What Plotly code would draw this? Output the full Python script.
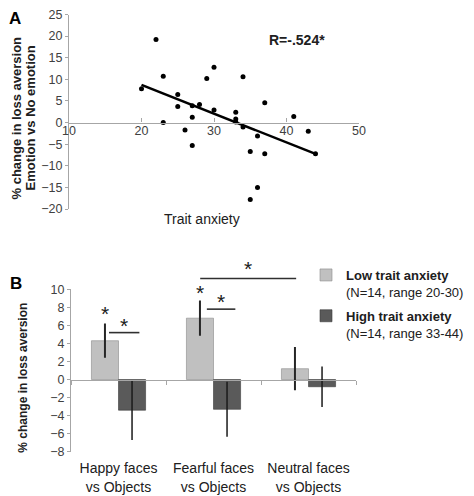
import numpy as np
import plotly.graph_objects as go

# panel A: trait anxiety vs % change in loss aversion (emotion vs no emotion)
anxiety = [20, 22, 23, 23, 25, 25, 26, 27, 27, 27, 28, 29, 30, 30,
           33, 33, 33, 34, 34, 35, 35, 36, 36, 37, 37, 41, 43, 44]
loss_change = [7.8, 19.2, 10.7, 0.0, 6.5, 3.7, -1.7, 3.9, 1.2, -5.3, 4.2, 10.2, 12.8, 2.9,
               2.4, 0.8, 0.1, 10.6, -1.0, -6.7, -17.8, -3.1, -15.0, 4.6, -7.2, 1.4, -2.0, -7.2]
r_text = "R=-.524*"

# panel B: group means + error
conditions = ["Happy faces<br>vs Objects", "Fearful faces<br>vs Objects", "Neutral faces<br>vs Objects"]
low_means = [4.3, 6.8, 1.2]
low_err = [1.9, 1.95, 2.4]
high_means = [-3.4, -3.3, -0.8]
high_err = [3.3, 3.05, 2.25]
low_name = "<b>Low trait anxiety</b><br>(N=14, range 20-30)"
high_name = "<b>High trait anxiety</b><br>(N=14, range 33-44)"

FONT = "Arial, Liberation Sans, sans-serif"
W, H = 474, 496
OFF = 8  # page body margin
AXCOL = "#a6a6a6"
TICKCOL = "#404040"


def px(x):
    return (x - OFF) / W


def py(y):
    return 1 - (y - OFF) / H


# domains (paper fractions) from target pixel positions
ax_dom = [px(69), px(359)]
ay_dom = [py(209), py(14.5)]
bx_dom = [px(71), px(356)]
by_dom = [py(451.7), py(289.3)]
a_yrange = [-20, 25]
b_yrange = [-8, 10]


def zero_pos(dom, rng):
    # paper position of value 0 on a y axis
    return dom[0] + (0 - rng[0]) / (rng[1] - rng[0]) * (dom[1] - dom[0])


def bfrac(v):
    # value on panel B y axis -> 'y2 domain' fraction (lets marks sit above the range)
    return (v - b_yrange[0]) / (b_yrange[1] - b_yrange[0])


slope, intercept = np.polyfit(anxiety, loss_change, 1)
fit_x = np.array([min(anxiety), max(anxiety)])
fit_y = slope * fit_x + intercept

fig = go.Figure()
fig.add_trace(go.Scatter(x=anxiety, y=loss_change, mode="markers",
                         marker=dict(color="black", size=5), showlegend=False,
                         xaxis="x", yaxis="y"))
fig.add_trace(go.Scatter(x=fit_x, y=fit_y, mode="lines",
                         line=dict(color="black", width=2.5), showlegend=False,
                         xaxis="x", yaxis="y"))

fig.add_trace(go.Bar(x=conditions, y=low_means, name=low_name, legendgroup="low",
                     marker=dict(color="#c0c0c0", line=dict(color="#8a8a8a", width=0.6)),
                     error_y=dict(type="data", array=low_err, color="#262626", thickness=2, width=0),
                     xaxis="x2", yaxis="y2"))
fig.add_trace(go.Bar(x=conditions, y=high_means, name=high_name, legendgroup="high",
                     marker=dict(color="#5a5a5a", line=dict(color="#3a3a3a", width=0.6)),
                     error_y=dict(type="data", array=high_err, color="#1a1a1a", thickness=1.5, width=0),
                     xaxis="x2", yaxis="y2"))

# significance brackets (offsets within a category, bar centres at +-0.1425)
brackets = [(-0.10, 0.22, 5.2), (0.93, 1.23, 7.8), (0.86, 1.87, 11.2)]
stars = [(-0.1425, 7.3), (0.06, 6.0), (0.8575, 9.6), (1.08, 8.6), (1.36, 12.3)]
shapes = []
for x0, x1, yv in brackets:
    shapes.append(dict(type="line", xref="x2", yref="y2 domain", x0=x0, x1=x1,
                       y0=bfrac(yv), y1=bfrac(yv), line=dict(color="#303030", width=1.6)))
ann = []
for xs, ys in stars:
    ann.append(dict(x=xs, y=bfrac(ys), xref="x2", yref="y2 domain", text="*", showarrow=False,
                    xanchor="center", yanchor="middle",
                    font=dict(family=FONT, size=21, color="#202020")))


def label(x, y, text, size, angle=0, color="#202020"):
    return dict(x=px(x), y=py(y), xref="paper", yref="paper", text=text, showarrow=False,
                xanchor="center", yanchor="middle", textangle=angle,
                font=dict(family=FONT, size=size, color=color))


ann += [
    label(15, 18.5, "<b>A</b>", 17, color="black"),
    label(16, 283, "<b>B</b>", 17, color="black"),
    label(297, 40, "<b>" + r_text + "</b>", 14),
    label(202, 219, "Trait anxiety", 14),
    label(15.5, 118, "<b>% change in loss aversion</b>", 13, -90),
    label(29.5, 118, "<b>Emotion vs No emotion</b>", 13, -90),
    label(22.7, 378, "<b>% change in loss aversion</b>", 12, -90),
]

tickfont = dict(family=FONT, size=12.5, color=TICKCOL)
fig.update_layout(
    width=W, height=H,
    margin=dict(l=0, r=0, t=0, b=0, autoexpand=False),
    paper_bgcolor="white", plot_bgcolor="white",
    font=dict(family=FONT, color="#202020"),
    barmode="group", bargap=0.43, bargroupgap=0,
    xaxis=dict(domain=ax_dom, range=[10, 50], dtick=10, anchor="free",
               position=zero_pos(ay_dom, a_yrange), showgrid=False, zeroline=False,
               showline=True, linecolor=AXCOL, linewidth=1.2, ticks="inside", ticklen=4,
               tickcolor=AXCOL, tickfont=tickfont, ticklabelstandoff=-4),
    yaxis=dict(domain=ay_dom, range=a_yrange, dtick=5, anchor="x", showgrid=False,
               zeroline=False, showline=True, linecolor=AXCOL, linewidth=1.2,
               ticks="outside", ticklen=3, tickcolor=AXCOL, tickfont=tickfont,
               ticklabeloverflow="allow"),
    xaxis2=dict(domain=bx_dom, anchor="free", position=zero_pos(by_dom, b_yrange),
                showgrid=False, zeroline=False, showline=True, linecolor=AXCOL, linewidth=1.2,
                ticks="outside", tickson="boundaries", ticklen=4, tickcolor=AXCOL,
                ticklabelstandoff=76, tickfont=dict(family=FONT, size=14, color="#202020")),
    yaxis2=dict(domain=by_dom, range=b_yrange, dtick=2, anchor="x2", showgrid=False,
                zeroline=False, showline=True, linecolor=AXCOL, linewidth=1.2,
                ticks="outside", ticklen=3, tickcolor=AXCOL, tickfont=tickfont),
    legend=dict(x=px(306), y=py(260), xanchor="left", yanchor="top", valign="top",
                font=dict(family=FONT, size=13, color="#202020"), bgcolor="rgba(0,0,0,0)",
                tracegroupgap=4),
    shapes=shapes,
    annotations=ann,
)

fig.write_html("out.html")
